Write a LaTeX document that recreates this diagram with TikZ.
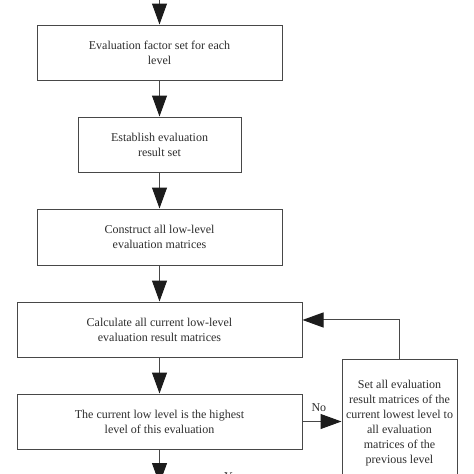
\documentclass[tikz,border=0pt]{standalone}
\usepackage{fontspec}
\setmainfont{Liberation Serif}
\usetikzlibrary{arrows.meta,calc}
\definecolor{ink}{HTML}{2E2E2E}
\definecolor{edge}{HTML}{484848}
\definecolor{tip}{HTML}{1C1C1C}
\begin{document}
\begin{tikzpicture}[x=1pt,y=-1pt,
  box/.style={draw=edge,line width=1pt,rectangle,inner sep=0pt},
  txt/.style={text=ink,align=center,font=\fontsize{12}{15}\selectfont,inner sep=0pt},
  arr/.style={draw=edge,line width=1pt,-{Triangle[width=15pt,length=21pt,fill=tip,color=tip]}}]
\useasboundingbox (0,0) rectangle (474,474);
\fill[white] (0,0) rectangle (474,474);
\node[box,minimum width=245,minimum height=55] (b1) at (159.5,52.5) {};
\node[txt] at (b1) {Evaluation factor set for each\\level};
\node[box,minimum width=163,minimum height=55] (b2) at (159.5,144.5) {};
\node[txt] at (b2) {Establish evaluation\\result set};
\node[box,minimum width=245,minimum height=56] (b3) at (159.5,237) {};
\node[txt] at (b3) {Construct all low-level\\evaluation matrices};
\node[box,minimum width=285,minimum height=55] (b4) at (159.5,329.5) {};
\node[txt] at (b4) {Calculate all current low-level\\evaluation result matrices};
\node[box,minimum width=285,minimum height=55] (b5) at (159.5,421.5) {};
\node[txt] at (b5) {The current low level is the highest\\level of this evaluation};
\node[box,minimum width=115,minimum height=140,anchor=north] (b6) at (399.5,359) {};
\node[txt] (t6) at (399.5,423) {Set all evaluation\\result matrices of the\\current lowest level to\\all evaluation\\matrices of the\\previous level};
\coordinate (top) at (159.5,-2);
\coordinate (bot) at (159.5,484);
\coordinate (lp) at ($(b4.north east)!0.33!(b4.south east)$);
\draw[arr] (top) -- (b1.north);
\draw[arr] (b1.south) -- (b2.north);
\draw[arr] (b2.south) -- (b3.north);
\draw[arr] (b3.south) -- (b4.north);
\draw[arr] (b4.south) -- (b5.north);
\draw[arr] (b5.south) -- (bot);
\draw[arr] (b5.east) -- (b5.east -| b6.west) node[pos=0.42,above=9pt,txt] (no) {No};
\draw[arr] (b6.north) |- (lp);
\node[txt,anchor=base west] (yes) at (224,480) {Yes};
\end{tikzpicture}
\end{document}
